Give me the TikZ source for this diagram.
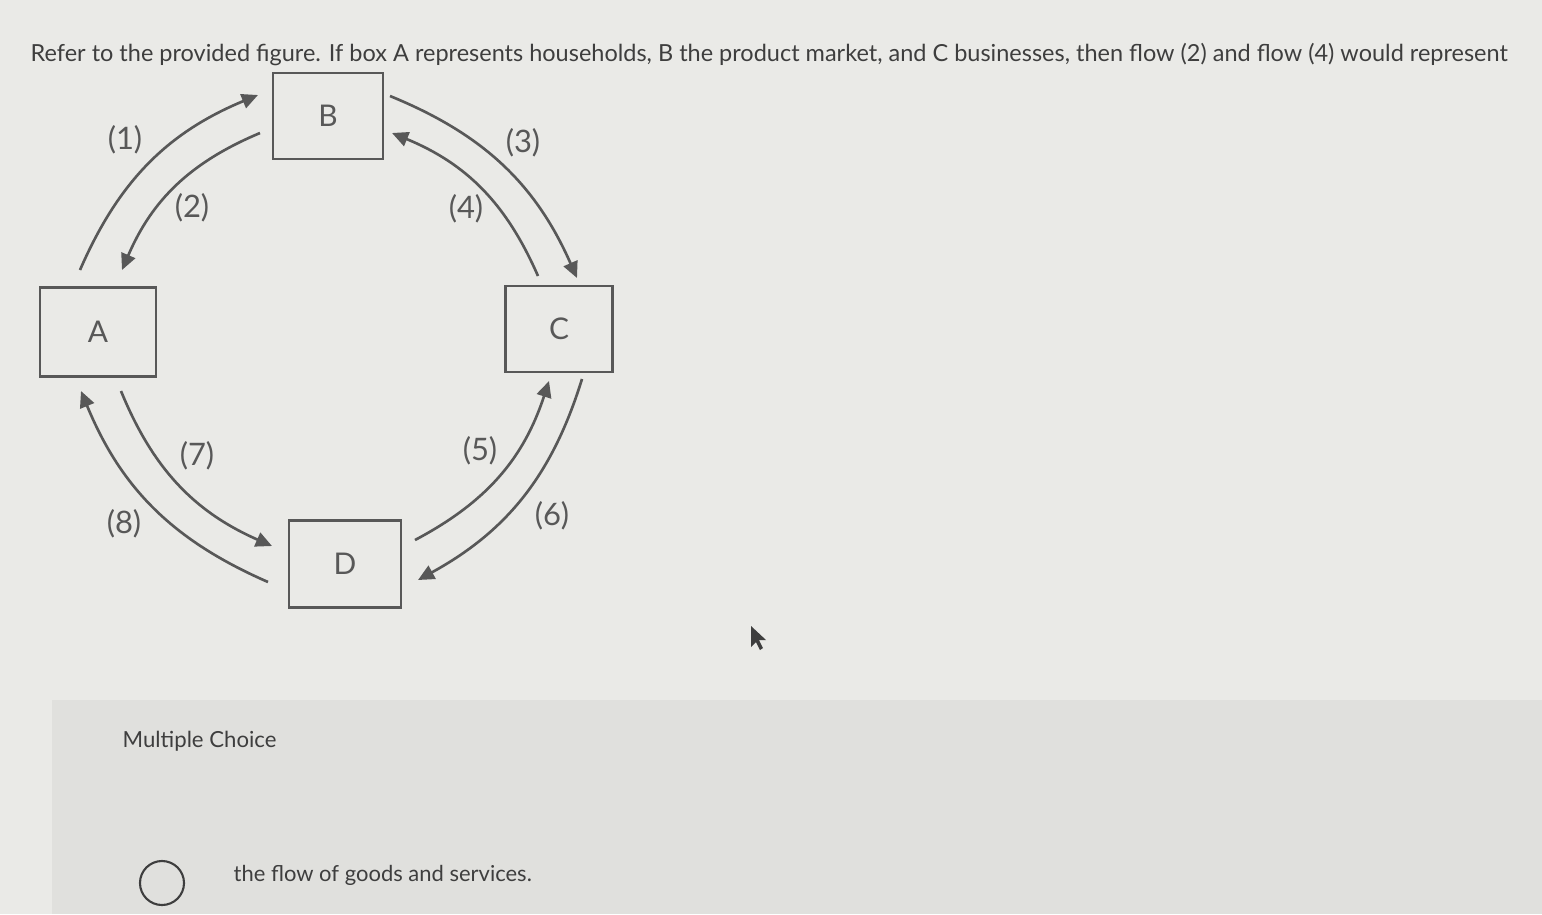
\documentclass[tikz,border=0pt]{standalone}
\usepackage{fontspec}
\setmainfont{Lato}
\usetikzlibrary{arrows.meta}
\definecolor{paper}{RGB}{234,234,231}
\definecolor{panel}{RGB}{224,224,221}
\definecolor{ink}{RGB}{62,62,62}
\definecolor{line}{RGB}{88,88,88}
\tikzset{
  sector/.style={draw=line, line width=0.65pt, minimum width=1.1cm, minimum height=0.86cm,
    font=\fontsize{8.5}{10}\selectfont, text=line},
  flow/.style={draw=line, line width=0.75pt, -{Triangle[length=4.6pt,width=4.2pt]}},
  flowlab/.style={font=\fontsize{8.8}{10}\selectfont, text=line}
}

\begin{document}
\begin{tikzpicture}[x=0.01cm, y=-0.01cm]
  \fill[paper] (0,0) rectangle (1542,914) ;
  \useasboundingbox (0,0) rectangle (1542,914) ;
  \fill[panel] (52,700) rectangle (1542,914) ;

  % question
  \node[anchor=base west, text=ink, font=\fontsize{6.68}{8}\selectfont, inner sep=0pt] (question) at (30,61)
    {Refer to the provided figure. If box A represents households, B the product market, and C businesses, then flow (2) and flow (4) would represent};

  % the four boxes
  \node[sector, minimum width=1.1cm] (B) at (328,116) {B};
  \node[sector, minimum width=1.16cm, minimum height=0.89cm] (A) at (98,332) {A};
  \node[sector, minimum width=1.07cm] (C) at (559,329) {C};
  \node[sector, minimum width=1.12cm, minimum height=0.87cm] (D) at (345,564) {D};

  % ends of the flows
  \coordinate (a1) at (80,270) ;   \coordinate (b1) at (258,95) ;
  \coordinate (b2) at (260,133) ;  \coordinate (a2) at (122,270) ;
  \coordinate (b3) at (390,96) ;   \coordinate (c3) at (577,278) ;
  \coordinate (c4) at (538,276) ;  \coordinate (b4) at (392,133) ;
  \coordinate (d5) at (415,540) ;  \coordinate (c5) at (549,381) ;
  \coordinate (c6) at (582,379) ;  \coordinate (d6) at (418,580) ;
  \coordinate (a7) at (121,391) ;  \coordinate (d7) at (272,546) ;
  \coordinate (d8) at (268,582) ;  \coordinate (a8) at (81,391) ;

  \draw[flow] (a1) to[bend left=22] (b1) ;
  \draw[flow] (b2) to[bend right=22] (a2) ;
  \draw[flow] (b3) to[bend left=22] (c3) ;
  \draw[flow] (c4) to[bend right=22] (b4) ;
  \draw[flow] (d5) to[bend right=22] (c5) ;
  \draw[flow] (c6) to[bend left=22] (d6) ;
  \draw[flow] (a7) to[bend right=22] (d7) ;
  \draw[flow] (d8) to[bend left=22] (a8) ;

  \foreach \n/\px/\py in {1/125/140, 2/192/208, 3/523/143, 4/466/209, 5/480/451, 6/552/516, 7/197/456, 8/124/524}
  {
    \node[flowlab] (lab\n) at (\px,\py) {(\n)} ;
  }

  % answer panel
  \node[anchor=base west, text=ink, font=\fontsize{6.3}{8}\selectfont, inner sep=0pt] (mc) at (122,747) {Multiple Choice};
  \node[draw=ink, line width=0.6pt, circle, minimum size=0.44cm, inner sep=0pt] (radio) at (162,883) {};
  \node[anchor=base west, text=ink, font=\fontsize{6.25}{8}\selectfont, inner sep=0pt] (answer) at (233,881) {the flow of goods and services.};

  % mouse pointer
  \fill[ink] (751,626) -- (751,647) -- (756,642) -- (760,650) -- (763,648) -- (759,640) -- (766,640) -- cycle ;
\end{tikzpicture}
\end{document}
